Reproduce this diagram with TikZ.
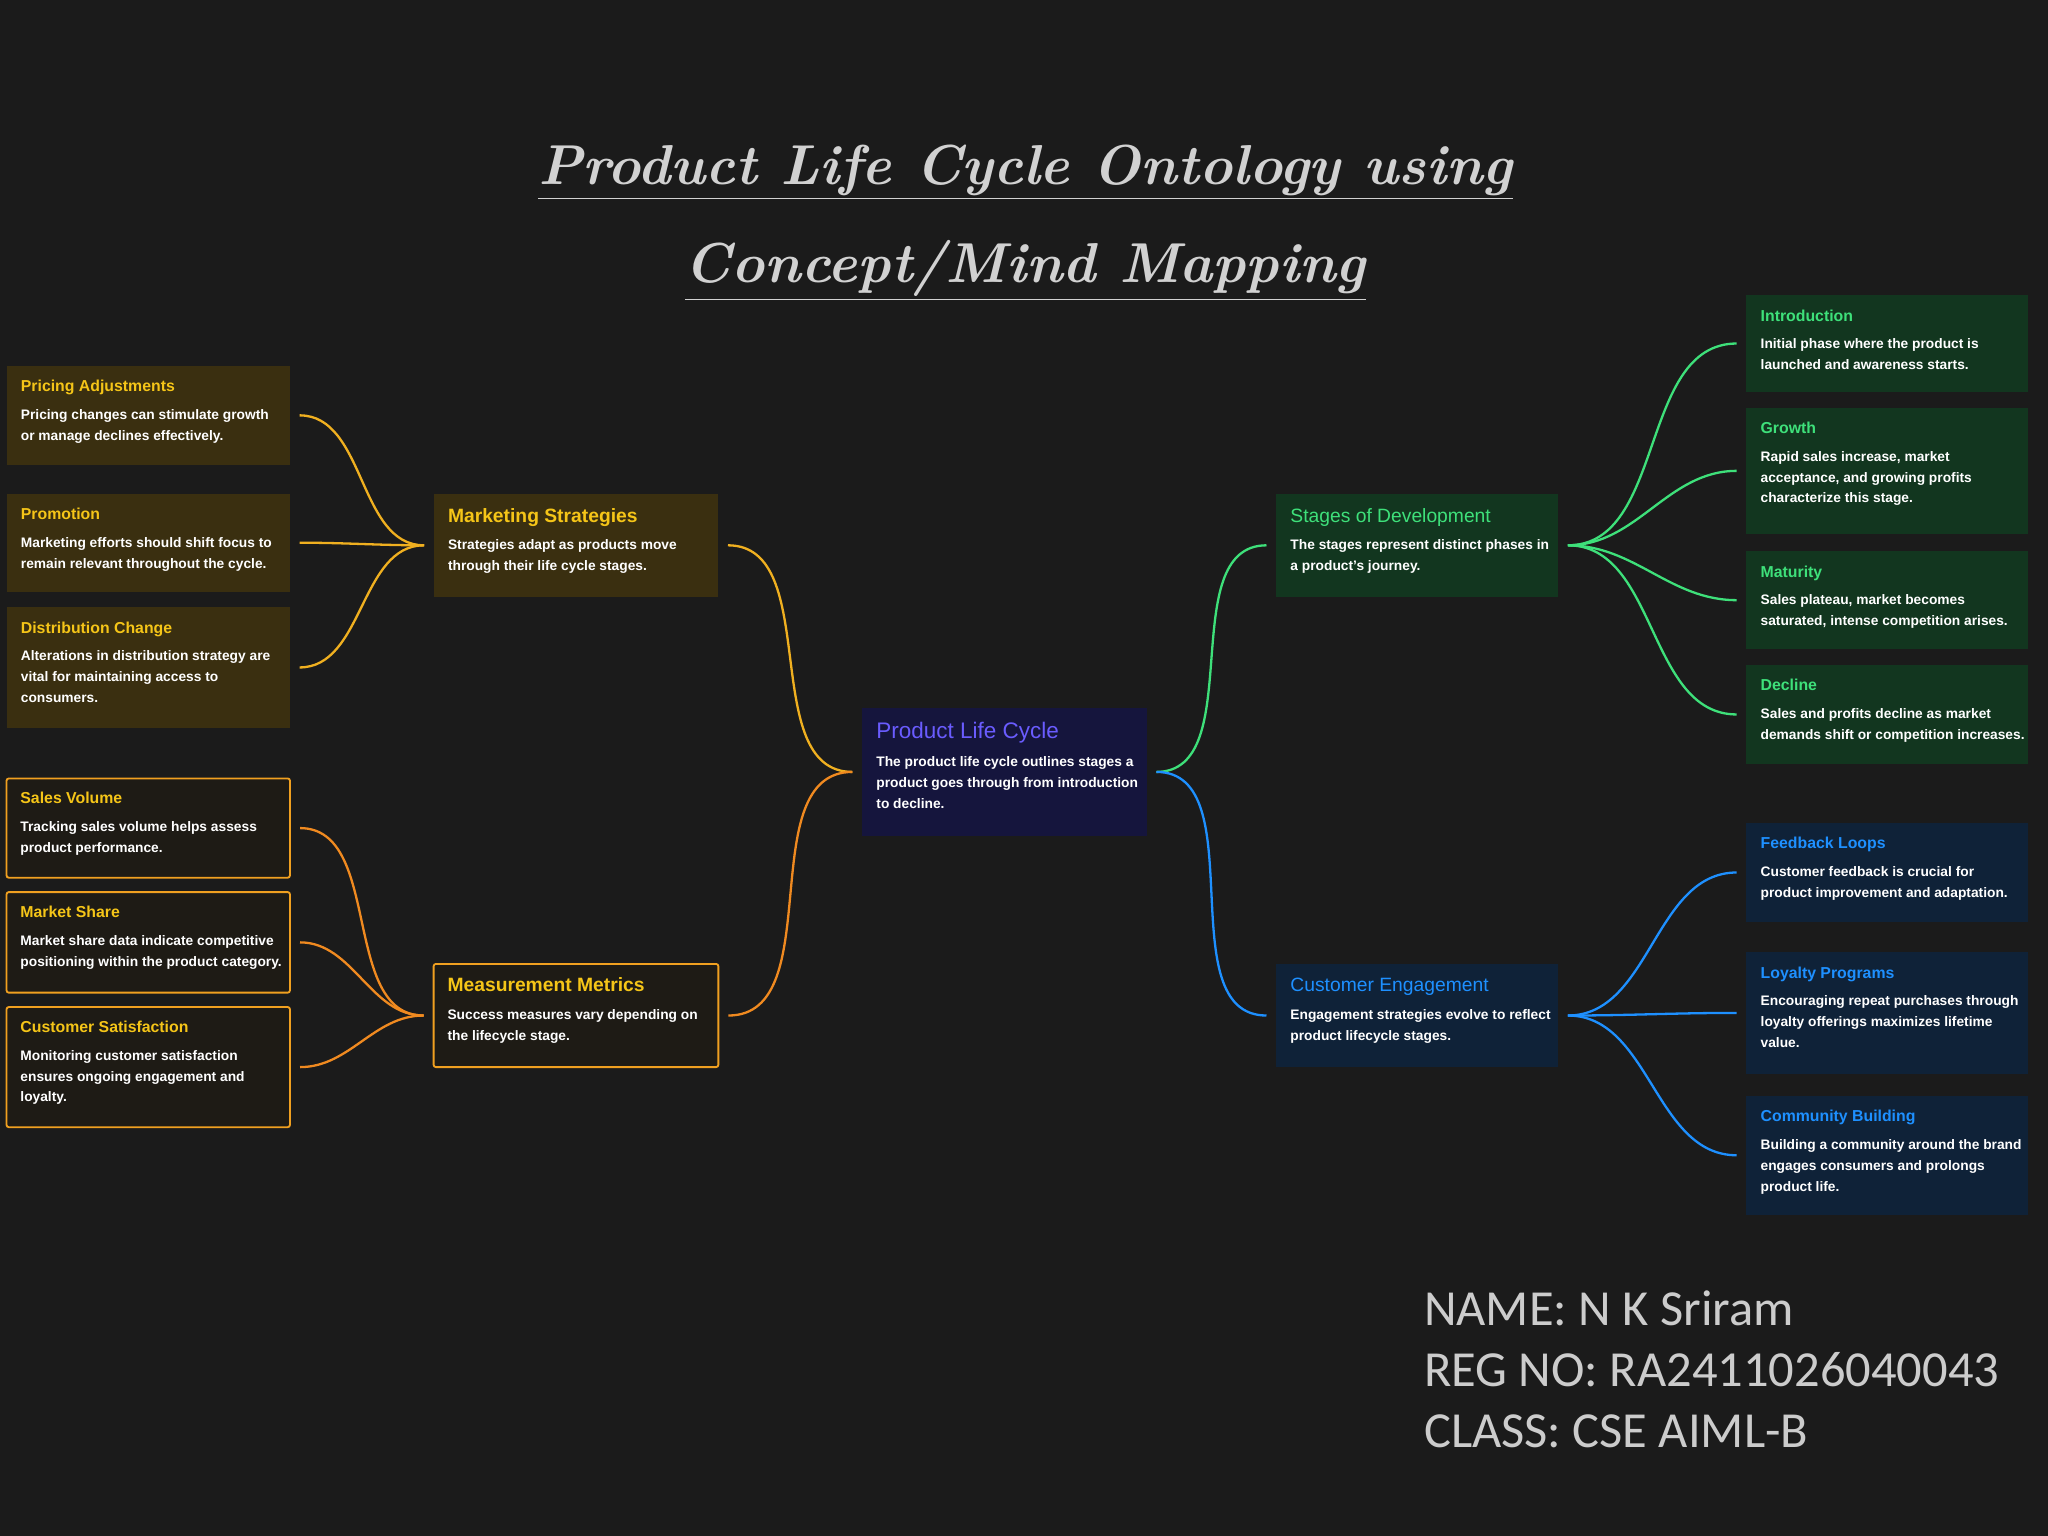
\documentclass[tikz,border=0pt]{standalone}
\usepackage{fontspec}
\setmainfont{Liberation Sans}
\newfontfamily\namefont{Carlito}
\newfontfamily\ttlfont{Latin Modern Roman}
\definecolor{bg}{HTML}{1B1B1B}
\definecolor{cpur}{HTML}{6A5CFF}\definecolor{fpur}{HTML}{15153D}
\definecolor{cyel}{HTML}{F5C518}\definecolor{fyel}{HTML}{3A2F10}
\definecolor{corg}{HTML}{F0A020}\definecolor{forg}{HTML}{1E1B15}
\definecolor{cgrn}{HTML}{3EE07A}\definecolor{fgrn}{HTML}{12361F}
\definecolor{cblu}{HTML}{1E90FF}\definecolor{fblu}{HTML}{0F2238}
\definecolor{ledge}{HTML}{F0B020}\definecolor{medge}{HTML}{F08A20}
\tikzset{
 ybox/.style={fill=fyel,draw=none},
 obox/.style={fill=forg,draw=corg,line width=0.8pt,rounded corners=1pt},
 gbox/.style={fill=fgrn,draw=none},
 bbox/.style={fill=fblu,draw=none},
 pbox/.style={fill=fpur,draw=none},
 conn/.style={line width=1pt,shorten <=0.14cm,shorten >=0.14cm},
}
\newcommand\mmbox[9]{%
 \pgfmathsetmacro\bw{(#4-#2)*0.02}\pgfmathsetmacro\bh{(#5-#3)*0.02}%
 \node[#6,inner sep=0,minimum width=\bw cm,minimum height=\bh cm] (#1) at ({(#2+#4)/2},{(#3+#5)/2}) {};
 \node[anchor=north west,inner sep=0,align=left,text=white,font={\fontsize{6}{9.1}\selectfont\bfseries}] (#1t) at ([xshift=0.22cm,yshift=-0.22cm]#1.north west) {{\color{#7}#8}\\[3pt]#9};}
\begin{document}
\begin{tikzpicture}[x=0.02cm,y=-0.02cm]
\fill[bg] (0,0) rectangle (1568,1176);
\useasboundingbox (0,0) rectangle (1568,1176);
% title
\node[text=white!82!black,font={\ttlfont\itshape\bfseries\fontsize{24.5}{28}\selectfont}] (t1) at (785,132) {\underline{Product Life Cycle Ontology using}};
\node[text=white!82!black,font={\ttlfont\itshape\bfseries\fontsize{24.5}{28}\selectfont}] (t2) at (785,207) {\underline{Concept/Mind Mapping}};
% center
\mmbox{plc}{660}{542}{878}{640}{pbox}{cpur}{\fontsize{9.8}{12}\selectfont\mdseries Product Life Cycle}{The product life cycle outlines stages a\\product goes through from introduction\\to decline.}
% level 1
\mmbox{mkt}{332}{378}{550}{457}{ybox}{cyel}{\fontsize{8.4}{10}\selectfont Marketing Strategies}{Strategies adapt as products move\\through their life cycle stages.}
\mmbox{mea}{332}{738}{550}{817}{obox}{cyel}{\fontsize{8.4}{10}\selectfont Measurement Metrics}{Success measures vary depending on\\the lifecycle stage.}
\mmbox{sta}{977}{378}{1193}{457}{gbox}{cgrn}{\fontsize{8.4}{10}\selectfont\mdseries Stages of Development}{The stages represent distinct phases in\\a product's journey.}
\mmbox{cus}{977}{738}{1193}{817}{bbox}{cblu}{\fontsize{8.4}{10}\selectfont\mdseries Customer Engagement}{Engagement strategies evolve to reflect\\product lifecycle stages.}
% left leaves
\mmbox{pri}{5}{280}{222}{356}{ybox}{cyel}{\fontsize{6.9}{9}\selectfont Pricing Adjustments}{Pricing changes can stimulate growth\\or manage declines effectively.}
\mmbox{pro}{5}{378}{222}{453}{ybox}{cyel}{\fontsize{6.9}{9}\selectfont Promotion}{Marketing efforts should shift focus to\\remain relevant throughout the cycle.}
\mmbox{dis}{5}{465}{222}{557}{ybox}{cyel}{\fontsize{6.9}{9}\selectfont Distribution Change}{Alterations in distribution strategy are\\vital for maintaining access to\\consumers.}
\mmbox{sal}{5}{596}{222}{672}{obox}{cyel}{\fontsize{6.9}{9}\selectfont Sales Volume}{Tracking sales volume helps assess\\product performance.}
\mmbox{mar}{5}{683}{222}{760}{obox}{cyel}{\fontsize{6.9}{9}\selectfont Market Share}{Market share data indicate competitive\\positioning within the product category.}
\mmbox{csa}{5}{771}{222}{863}{obox}{cyel}{\fontsize{6.9}{9}\selectfont Customer Satisfaction}{Monitoring customer satisfaction\\ensures ongoing engagement and\\loyalty.}
% right leaves
\mmbox{int}{1337}{226}{1553}{300}{gbox}{cgrn}{\fontsize{6.9}{9}\selectfont Introduction}{Initial phase where the product is\\launched and awareness starts.}
\mmbox{gro}{1337}{312}{1553}{409}{gbox}{cgrn}{\fontsize{6.9}{9}\selectfont Growth}{Rapid sales increase, market\\acceptance, and growing profits\\characterize this stage.}
\mmbox{mat}{1337}{422}{1553}{497}{gbox}{cgrn}{\fontsize{6.9}{9}\selectfont Maturity}{Sales plateau, market becomes\\saturated, intense competition arises.}
\mmbox{dec}{1337}{509}{1553}{585}{gbox}{cgrn}{\fontsize{6.9}{9}\selectfont Decline}{Sales and profits decline as market\\demands shift or competition increases.}
\mmbox{fee}{1337}{630}{1553}{706}{bbox}{cblu}{\fontsize{6.9}{9}\selectfont Feedback Loops}{Customer feedback is crucial for\\product improvement and adaptation.}
\mmbox{loy}{1337}{729}{1553}{822}{bbox}{cblu}{\fontsize{6.9}{9}\selectfont Loyalty Programs}{Encouraging repeat purchases through\\loyalty offerings maximizes lifetime\\value.}
\mmbox{com}{1337}{839}{1553}{930}{bbox}{cblu}{\fontsize{6.9}{9}\selectfont Community Building}{Building a community around the brand\\engages consumers and prolongs\\product life.}
% connectors
\draw[conn,ledge] (plc.west) to[out=180,in=0] (mkt.east);
\draw[conn,medge] (plc.west) to[out=180,in=0] (mea.east);
\draw[conn,cgrn] (plc.east) to[out=0,in=180] (sta.west);
\draw[conn,cblu] (plc.east) to[out=0,in=180] (cus.west);
\foreach \n in {pri,pro,dis}{\draw[conn,ledge] (\n.east) to[out=0,in=180] (mkt.west);}
\foreach \n in {sal,mar,csa}{\draw[conn,medge] (\n.east) to[out=0,in=180] (mea.west);}
\foreach \n in {int,gro,mat,dec}{\draw[conn,cgrn] (sta.east) to[out=0,in=180] (\n.west);}
\foreach \n in {fee,loy,com}{\draw[conn,cblu] (cus.east) to[out=0,in=180] (\n.west);}
% footer
\node[anchor=north west,align=left,text=white!80!black,font={\namefont\fontsize{22}{26.6}\selectfont},inner sep=0] (info) at (1090,988) {NAME: N K Sriram\\REG NO: RA2411026040043\\CLASS: CSE AIML-B};
\end{tikzpicture}
\end{document}
